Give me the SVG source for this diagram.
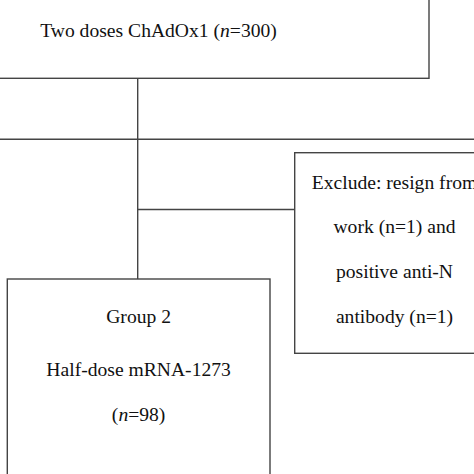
<svg xmlns="http://www.w3.org/2000/svg" width="474" height="474" viewBox="0 0 474 474">
<style>
.box{fill:#fff;stroke:#444;stroke-width:1.4}
.ln{stroke:#444;stroke-width:1.4;fill:none}
text{font-family:"Liberation Serif","Times New Roman",serif;font-size:19.6px;fill:#111;text-anchor:middle}
</style>
<rect width="474" height="474" fill="#fff"/>
<g id="connectors">
<line class="ln" x1="137.7" y1="78.3" x2="137.7" y2="279"/>
<line class="ln" x1="0" y1="139.2" x2="474" y2="139.2"/>
<line class="ln" x1="137.7" y1="209.5" x2="294.7" y2="209.5"/>
</g>
<g id="node-top">
<rect class="box" x="-112" y="-20" width="541" height="98.3"/>
<text x="158.5" y="36.7">Two doses ChAdOx1 (<tspan font-style="italic">n</tspan>=300)</text>
</g>
<g id="node-exclude">
<rect class="box" x="294.7" y="152.7" width="200" height="200.6"/>
<text x="394.5" y="188.8">Exclude: resign from</text>
<text x="394.5" y="233.4">work (n=1) and</text>
<text x="394.5" y="278.2">positive anti-N</text>
<text x="394.5" y="323">antibody (n=1)</text>
</g>
<g id="node-group2">
<rect class="box" x="7.3" y="279" width="262.7" height="220"/>
<text x="138.6" y="323.3">Group 2</text>
<text x="138.6" y="375.8">Half-dose mRNA-1273</text>
<text x="138.6" y="421.3">(<tspan font-style="italic">n</tspan>=98)</text>
</g>
</svg>
